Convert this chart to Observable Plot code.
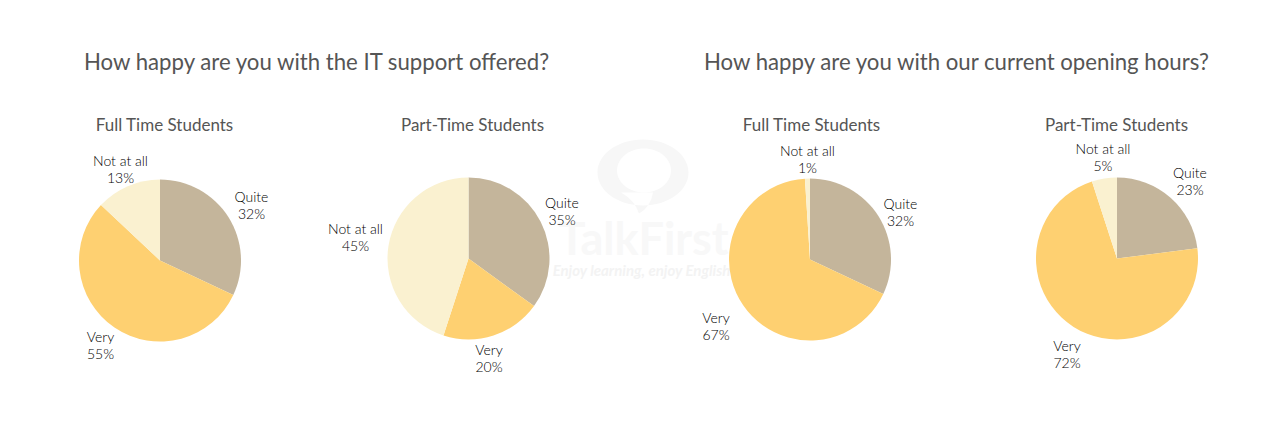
<!DOCTYPE html>
<html><head><meta charset="utf-8">
<script src="https://cdn.jsdelivr.net/npm/d3@7"></script>
<script src="https://cdn.jsdelivr.net/npm/@observablehq/plot@0.6"></script>
<style>html,body{margin:0;background:#fff}svg{display:block}</style>
</head><body><div id="chart"></div>
<script>
const answers = ["Quite", "Very", "Not at all"];
const answerColors = ["#c4b59b", "#fed071", "#faf1d0"];
const groups = ["Full Time Students", "Part-Time Students", "Full Time Students", "Part-Time Students"];
const quiteValues = [32, 35, 32, 23];
const veryValues = [55, 20, 67, 72];
const notAtAllValues = [13, 45, 1, 5];
const questions = ["How happy are you with the IT support offered?", "How happy are you with our current opening hours?"];

// layout
const font = "Lato, 'Open Sans', sans-serif";
const centerX = [159.5, 468, 809.5, 1116.5], centerY = [260, 258, 259, 258], radius = 81;
const subX = [164, 472, 811, 1116], subY = 125;
const qX = [83.5, 703.5], qY = 62;
const labelPos = [
  [[251, 205], [100, 344.5], [120, 169]],
  [[561.5, 211], [488.5, 357.5], [355, 237]],
  [[900, 212], [715.5, 325.5], [807, 159]],
  [[1189.5, 181], [1066.5, 353.5], [1102.5, 157]]
];
const labelPct = [quiteValues, veryValues, notAtAllValues];

const slices = [], labels = [];
groups.forEach((g, i) => {
  const vals = answers.map((_, k) => labelPct[k][i]);
  const arcs = d3.pie().sort(null)(vals);
  arcs.forEach((a, k) => {
    slices.push({answer: answers[k], x: centerX[i], y: centerY[i], a});
    labels.push({text: `${answers[k]}\n${vals[k]}%`, x: labelPos[i][k][0], y: labelPos[i][k][1]});
  });
});
const sliceSymbol = a => ({draw(ctx, size) {
  const r = Math.sqrt(size / Math.PI);
  d3.arc().context(ctx)({innerRadius: 0, outerRadius: r, startAngle: a.startAngle, endAngle: a.endAngle});
}});
function ellipse(ctx, cx, cy, rx, ry) {
  const k = 0.5523;
  ctx.moveTo(cx + rx, cy);
  ctx.bezierCurveTo(cx + rx, cy + k * ry, cx + k * rx, cy + ry, cx, cy + ry);
  ctx.bezierCurveTo(cx - k * rx, cy + ry, cx - rx, cy + k * ry, cx - rx, cy);
  ctx.bezierCurveTo(cx - rx, cy - k * ry, cx - k * rx, cy - ry, cx, cy - ry);
  ctx.bezierCurveTo(cx + k * rx, cy - ry, cx + rx, cy - k * ry, cx + rx, cy);
  ctx.closePath();
}
const bubbleOuter = {draw(ctx) {
  ellipse(ctx, 0, 0, 45.5, 33);
  ctx.moveTo(-22, 20);
  ctx.quadraticCurveTo(-8, 28, -4, 41);
  ctx.quadraticCurveTo(8, 34, 10, 20);
  ctx.closePath();
}};
const bubbleInner = {draw(ctx) {
  ellipse(ctx, 0, 0, 27, 22);
}};

const plot = Plot.plot({
  width: 1280, height: 424, margin: 0,
  x: {domain: [0, 1280], range: [0, 1280], axis: null},
  y: {domain: [0, 424], range: [0, 424], axis: null},
  color: {domain: answers, range: answerColors},
  style: {background: "#fff", fontFamily: font},
  marks: [
    // faint watermark
    Plot.dot([{x: 642.5, y: 172}], {x: "x", y: "y", r: 10, fill: "#f7f7f7", symbol: bubbleOuter}),
    Plot.dot([{x: 643.5, y: 170}], {x: "x", y: "y", r: 10, fill: "#fff", symbol: bubbleInner}),
    Plot.text(["TalkFirst"], {x: 643, y: 240, text: d => d, fontSize: 45, fontWeight: 700, fill: "#f8f8f8", fontFamily: font}),
    Plot.text(["Enjoy learning, enjoy English"], {x: 641, y: 271, text: d => d, fontSize: 15, fontWeight: 700, fontStyle: "italic", fill: "#f3f3f3", fontFamily: font}),
    ...slices.map(s => Plot.dot([s], {x: "x", y: "y", r: radius, fill: "answer", symbol: sliceSymbol(s.a)})),
    Plot.text(questions, {x: (d, i) => qX[i], y: qY, text: d => d, textAnchor: "start", fontSize: 22.2, fill: "#555", fontFamily: font}),
    Plot.text(groups, {x: (d, i) => subX[i], y: subY, text: d => d, fontSize: 17, fill: "#555", fontFamily: font}),
    Plot.text(labels, {x: "x", y: "y", text: "text", fontSize: 14, lineHeight: 1.2, fontWeight: 300, fill: "#000", fontFamily: font})
  ]
});
document.getElementById("chart").append(plot);
</script></body></html>
